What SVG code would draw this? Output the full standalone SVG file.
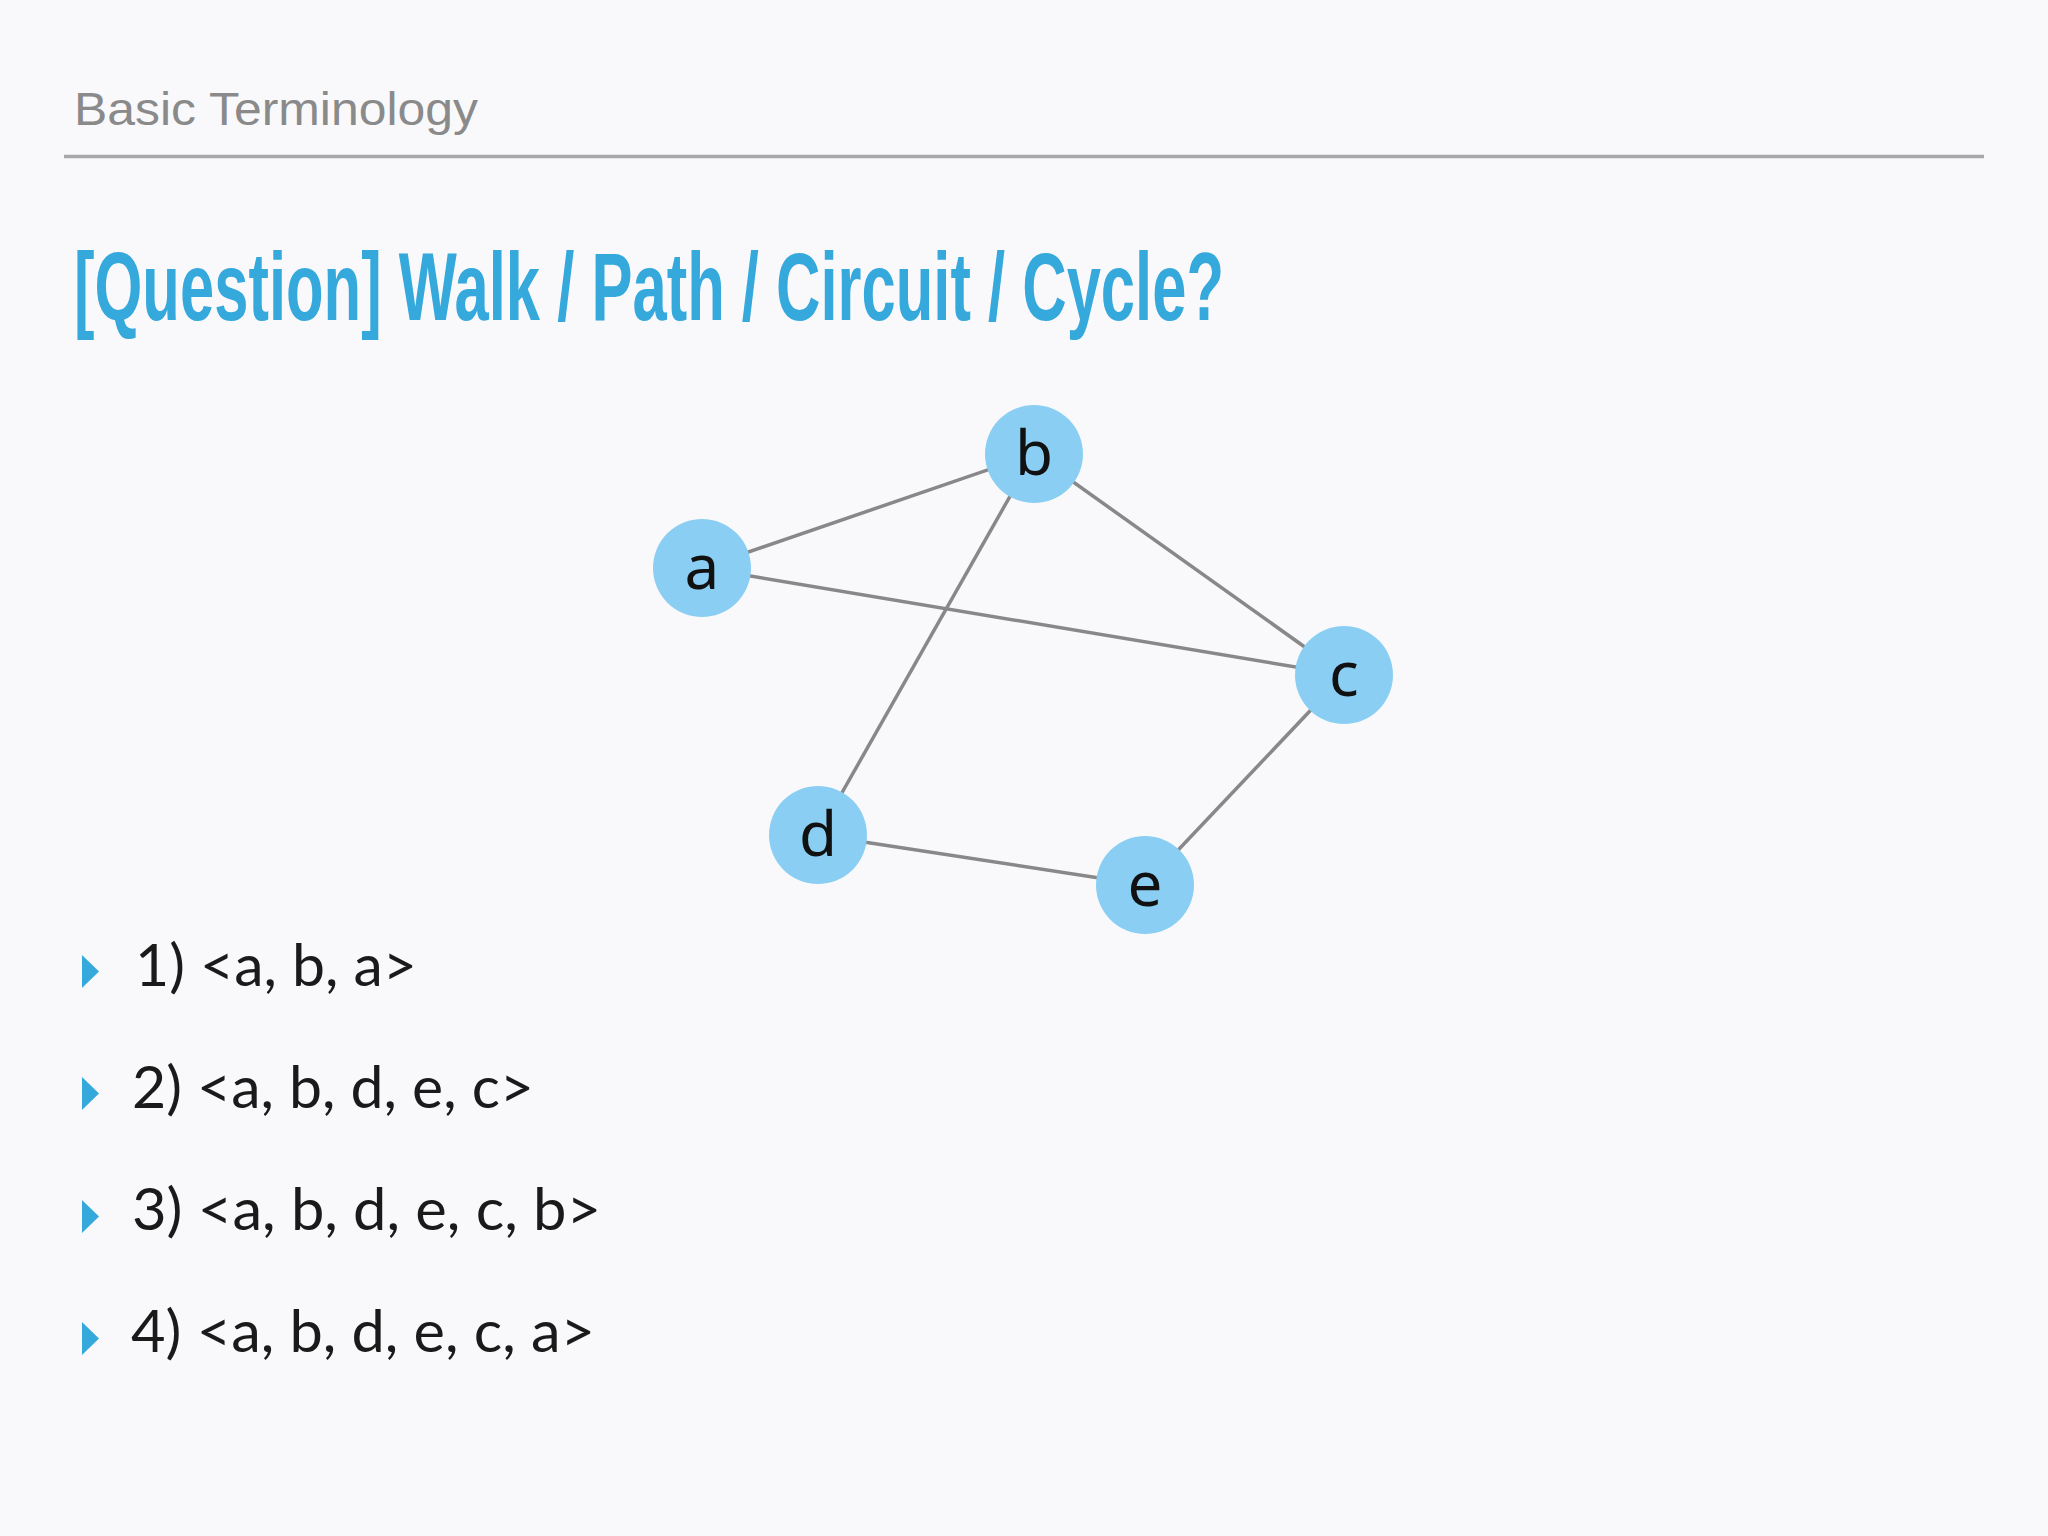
<svg xmlns="http://www.w3.org/2000/svg" width="2048" height="1536" viewBox="0 0 2048 1536">
<style>
.hdr{font-family:"Liberation Sans",Arial,sans-serif;font-size:46px;fill:#8a8a8a}
.ttl{font-family:"Liberation Sans",Arial,sans-serif;font-weight:bold;font-size:96px;fill:#35a8dc}
.item{font-family:Lato,"Noto Sans",sans-serif;font-size:59px;fill:#1a1a1a}
.bul{fill:#35a8dc}
.node circle{fill:#8acff3}
.node text{font-family:"Noto Sans","Open Sans",sans-serif;font-size:62px;fill:#111;text-anchor:middle}
.edges line{stroke:#888;stroke-width:3.5}
</style>
<rect width="2048" height="1536" fill="#f9f9fb"/>
<text class="hdr" x="74" y="125" textLength="404" lengthAdjust="spacingAndGlyphs">Basic Terminology</text>
<line x1="64" y1="156.5" x2="1984" y2="156.5" stroke="#a8a8a8" stroke-width="3.5"/>
<text class="ttl" x="74" y="320" textLength="1150" lengthAdjust="spacingAndGlyphs">[Question] Walk / Path / Circuit / Cycle?</text>
<g class="edges">
<line x1="702" y1="568" x2="1034" y2="454"/>
<line x1="702" y1="568" x2="1344" y2="675"/>
<line x1="1034" y1="454" x2="1344" y2="675"/>
<line x1="1034" y1="454" x2="818" y2="835"/>
<line x1="1344" y1="675" x2="1145" y2="885"/>
<line x1="818" y1="835" x2="1145" y2="885"/>
</g>
<g id="node-a" class="node"><circle cx="702" cy="568" r="49"/><text x="702" y="589">a</text></g>
<g id="node-b" class="node"><circle cx="1034" cy="454" r="49"/><text x="1034" y="475">b</text></g>
<g id="node-c" class="node"><circle cx="1344" cy="675" r="49"/><text x="1344" y="696">c</text></g>
<g id="node-d" class="node"><circle cx="818" cy="835" r="49"/><text x="818" y="856">d</text></g>
<g id="node-e" class="node"><circle cx="1145" cy="885" r="49"/><text x="1145" y="906">e</text></g>
<polygon class="bul" points="82,955 99,971.5 82,988"/>
<text class="item" x="135" y="986" textLength="282" lengthAdjust="spacingAndGlyphs">1) &lt;a, b, a&gt;</text>
<polygon class="bul" points="82,1077 99,1093.5 82,1110"/>
<text class="item" x="132" y="1108" textLength="402" lengthAdjust="spacingAndGlyphs">2) &lt;a, b, d, e, c&gt;</text>
<polygon class="bul" points="82,1200 99,1216.5 82,1233"/>
<text class="item" x="132" y="1230" textLength="469" lengthAdjust="spacingAndGlyphs">3) &lt;a, b, d, e, c, b&gt;</text>
<polygon class="bul" points="82,1322 99,1338.5 82,1355"/>
<text class="item" x="131" y="1352" textLength="464" lengthAdjust="spacingAndGlyphs">4) &lt;a, b, d, e, c, a&gt;</text>
</svg>
